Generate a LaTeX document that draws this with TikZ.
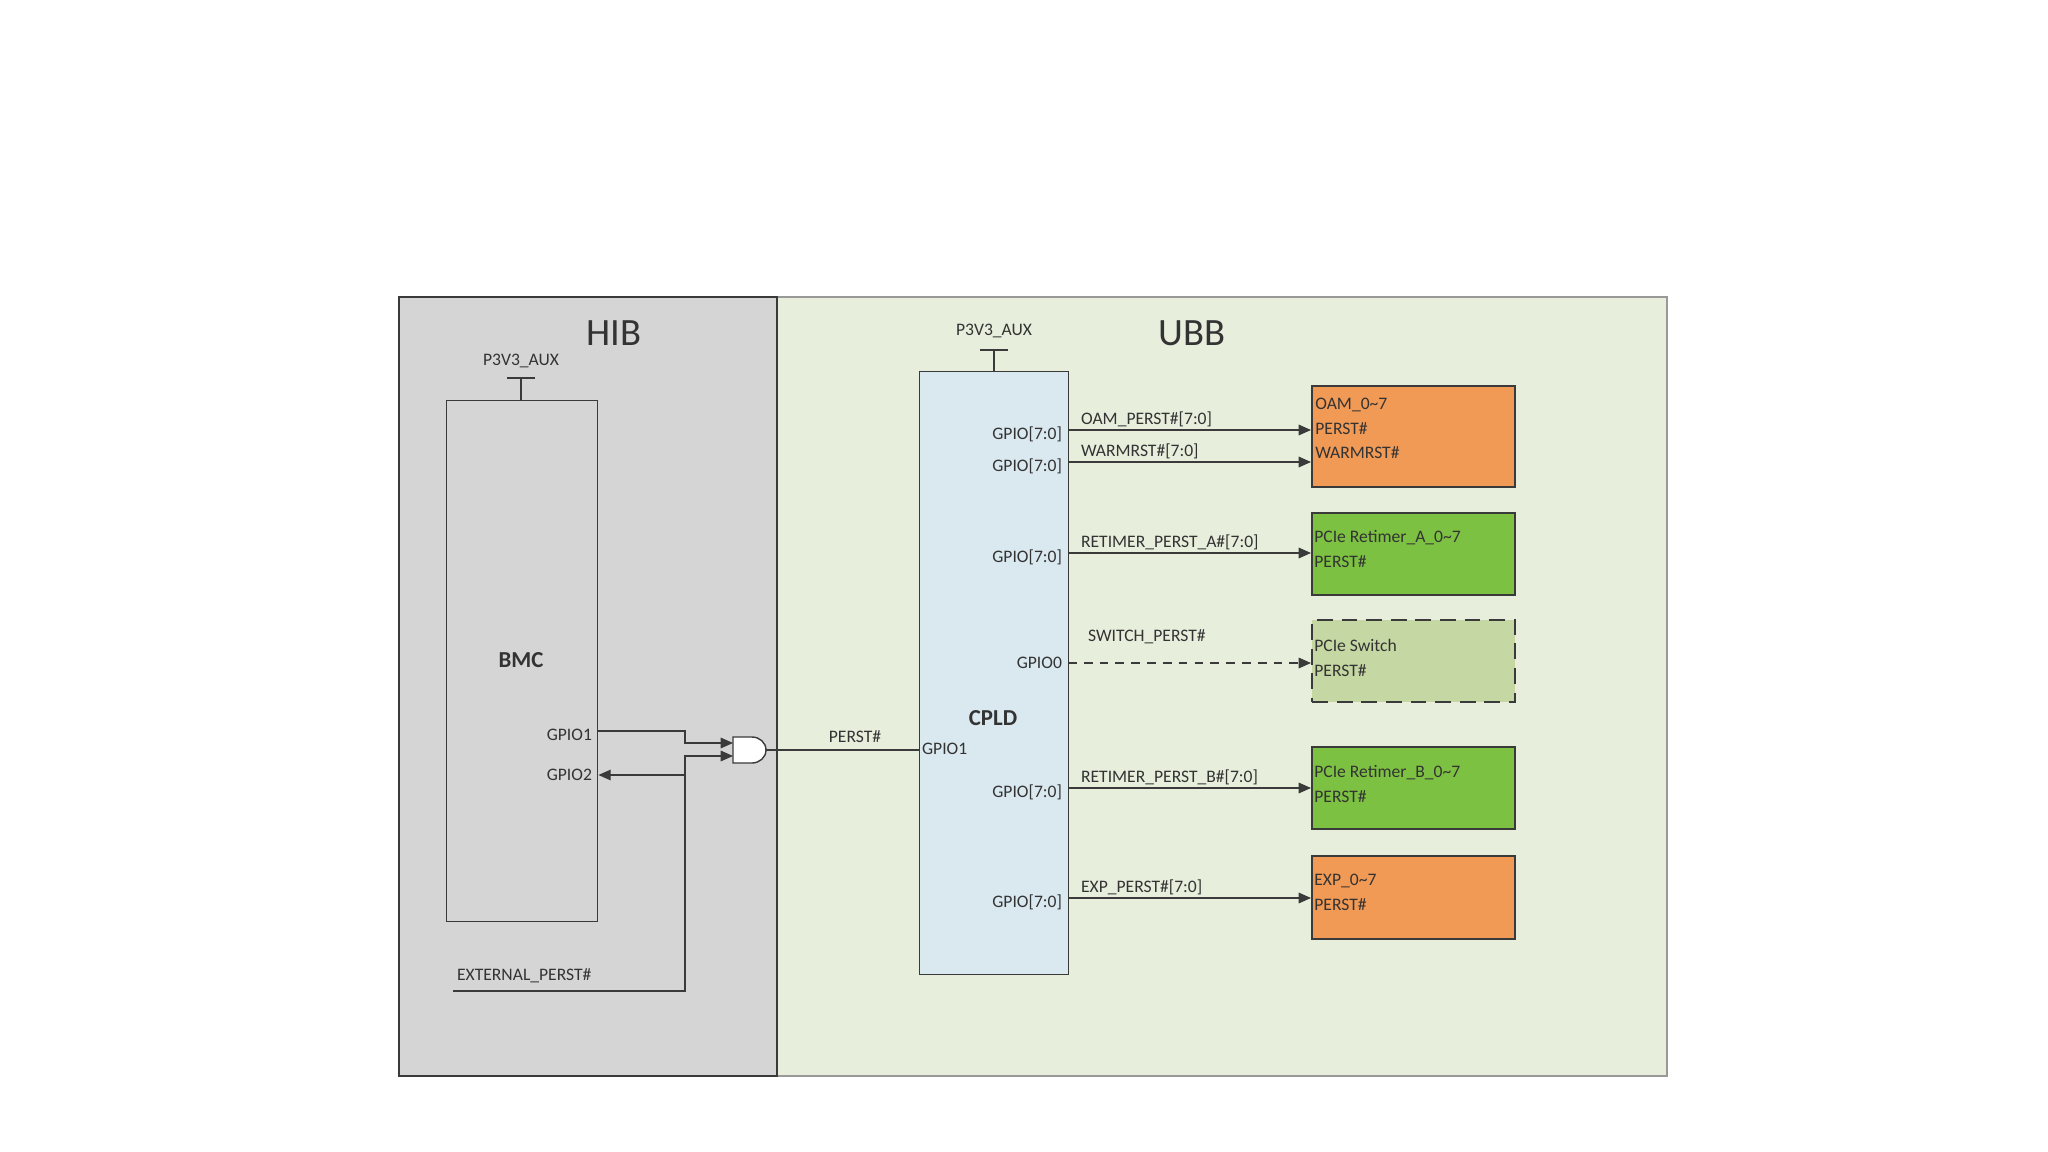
\documentclass[tikz,border=0pt]{standalone}
\usepackage{fontspec}
\setmainfont{Carlito}
\usetikzlibrary{arrows.meta}
\definecolor{hibgray}{HTML}{D5D5D5}
\definecolor{ubbbg}{HTML}{E7EEDC}
\definecolor{cpldbg}{HTML}{DAE8EF}
\definecolor{orng}{HTML}{F19A55}
\definecolor{grn}{HTML}{7DC142}
\definecolor{swg}{HTML}{C5D7A2}
\definecolor{txt}{HTML}{333333}
\definecolor{edge}{HTML}{3A3A3A}
\begin{document}
\begin{tikzpicture}[x=0.02cm,y=-0.02cm,
  lab/.style={font=\fontsize{10}{12}\selectfont,text=txt,inner sep=1pt},
  box/.style={draw=edge,line width=1.4pt,minimum width=203*0.02cm,anchor=north west},
  btxt/.style={font=\fontsize{10}{14}\selectfont,text=txt,align=left,anchor=north west,inner sep=0pt},
  sig/.style={draw=edge,line width=0.8pt,-{Triangle[width=6pt,length=7pt]}},
  wire/.style={draw=edge,line width=0.8pt}]
\useasboundingbox (0,0) rectangle (2048,1152);
\fill[white] (0,0) rectangle (2048,1152);
% panels
\draw[fill=ubbbg,draw=gray!80,line width=0.8pt] (777,297) rectangle (1667,1076);
\draw[fill=hibgray,draw=edge,line width=1.6pt] (399,297) rectangle (777,1076);
\node[font=\fontsize{22}{24}\selectfont,text=txt] (hib) at (614,333) {HIB};
\node[font=\fontsize{22}{24}\selectfont,text=txt] (ubb) at (1192,333) {UBB};
% BMC
\node[draw=edge,line width=0.8pt,minimum width=151*0.02cm,minimum height=521*0.02cm,anchor=north west,inner sep=0pt] (bmc) at (446,400) {};
\node[font=\bfseries\fontsize{13}{15}\selectfont,text=txt] (bmcl) at (521,660) {BMC};
\node[lab] (p1) at (521,361) {P3V3\_AUX};
\coordinate (p1t) at (521,378);
\draw[wire] (p1t) -- (bmc.north -| p1t);
\draw[wire] ([xshift=-14*0.02cm]p1t) -- ([xshift=14*0.02cm]p1t);
% CPLD
\node[draw=edge,line width=0.8pt,fill=cpldbg,minimum width=149*0.02cm,minimum height=603*0.02cm,anchor=north west,inner sep=0pt] (cpld) at (919,371) {};
\node[font=\bfseries\fontsize{13}{15}\selectfont,text=txt] (cpldl) at (993,718) {CPLD};
\node[lab] (p2) at (994,331) {P3V3\_AUX};
\coordinate (p2t) at (994,350);
\draw[wire] (p2t) -- (cpld.north -| p2t);
\draw[wire] ([xshift=-14*0.02cm]p2t) -- ([xshift=14*0.02cm]p2t);
% target boxes
\node[box,fill=orng,minimum height=101*0.02cm] (oam) at (1311,385) {};
\node[box,fill=grn,minimum height=82*0.02cm] (ra) at (1311,512) {};
\node[box,fill=swg,dashed,dash pattern=on 9pt off 5pt,minimum height=82*0.02cm] (sw) at (1311,619) {};
\node[box,fill=grn,minimum height=82*0.02cm] (rb) at (1311,746) {};
\node[box,fill=orng,minimum height=83*0.02cm] (exp) at (1311,855) {};
\node[btxt] at (1315,398) {OAM\_0\textasciitilde7\\PERST\#\\WARMRST\#};
\node[btxt] at (1314,530) {PCIe Retimer\_A\_0\textasciitilde7\\PERST\#};
\node[btxt] at (1314,639) {PCIe Switch\\PERST\#};
\node[btxt] at (1314,765) {PCIe Retimer\_B\_0\textasciitilde7\\PERST\#};
\node[btxt] at (1314,874) {EXP\_0\textasciitilde7\\PERST\#};
% CPLD outputs
\foreach \y/\nm/\lb/\tg in {430/a/OAM\_PERST\#[7:0]/oam, 462/b/WARMRST\#[7:0]/oam, 553/c/RETIMER\_PERST\_A\#[7:0]/ra, 788/e/RETIMER\_PERST\_B\#[7:0]/rb, 898/f/EXP\_PERST\#[7:0]/exp}{
  \coordinate (s\nm) at (1068,\y);
  \draw[sig] (s\nm) -- (s\nm -| \tg.west);
  \node[lab,anchor=south west] at (1079,\y-1) {\lb};
  \node[lab,anchor=east] at (1064,\y+4) {GPIO[7:0]};
}
\coordinate (sd) at (1068,663);
\draw[sig,dashed,dash pattern=on 5pt off 4pt] (sd) -- (sd -| sw.west);
\node[lab,anchor=south west] at (1086,646) {SWITCH\_PERST\#};
\node[lab,anchor=east] at (1064,663) {GPIO0};
% gate
\coordinate (g0) at (733,737);
\draw[edge,line width=0.8pt,fill=white] (733,737) -- (752,737) to[out=0,in=90] (766,750) to[out=-90,in=0] (752,763) -- (733,763) -- cycle;
\coordinate (gout) at (766,750);
\coordinate (gin1) at (733,743);
\coordinate (gin2) at (733,756);
\draw[wire] (gout) -- (gout -| cpld.west);
\node[lab,anchor=south] at (855,745) {PERST\#};
\node[lab,anchor=west] at (920,749) {GPIO1};
% BMC signals
\node[lab,anchor=east] at (594,735) {GPIO1};
\node[lab,anchor=east] at (594,775) {GPIO2};
\coordinate (j1) at (685,731);
\coordinate (j2) at (685,991);
\coordinate (ext) at (453,991);
\draw[sig] (bmc.east |- j1) -- (j1) |- (gin1);
\draw[sig] (ext) -- (j2) |- (gin2);
\draw[sig] (685,775) -- (bmc.east |- 0,775);
\node[lab,anchor=south west] at (455,985) {EXTERNAL\_PERST\#};
\end{tikzpicture}
\end{document}
